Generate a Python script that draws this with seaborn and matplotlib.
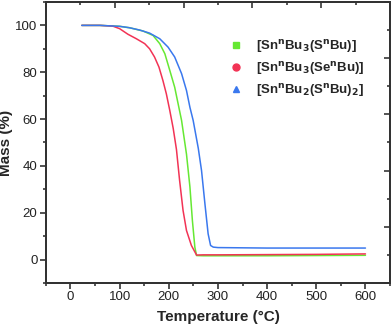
import matplotlib
matplotlib.use("Agg")
import matplotlib.pyplot as plt
import seaborn as sns
from matplotlib.lines import Line2D
from matplotlib.ticker import MultipleLocator, NullFormatter

# TGA data
temp_s = [23, 60, 100, 120, 147.6, 168, 181.6, 192, 202, 212, 219, 226, 236, 243, 248, 253, 256.5,
          270, 300, 400, 500, 600]
mass_s = [100, 100, 99.6, 99, 97.6, 95.7, 92.2, 87.9, 80.8, 73.6, 66.5, 59.4, 45, 31, 16.7, 5.3, 1.7,
          1.6, 1.6, 1.6, 1.7, 1.8]

temp_se = [23, 60, 86, 100, 117, 134, 151, 161, 171, 180, 188, 195, 202, 209, 215.6, 222, 229, 236,
           246, 256.5, 270, 300, 400, 500, 600]
mass_se = [100, 100, 99.7, 98.6, 96.2, 94.3, 92.2, 90, 86.5, 82.2, 76.5, 70.8, 63.7, 56, 47, 33.8, 21,
           12.4, 6, 1.9, 2, 2.0, 2.1, 2.2, 2.4]

temp_s2 = [23, 60, 100, 120, 141, 161, 181.6, 198.6, 212, 226, 236, 243, 249.6, 260, 266.6, 273.5, 280,
           285, 290.5, 300, 400, 500, 600]
mass_s2 = [100, 100, 99.6, 99, 98, 96.7, 94.3, 90.7, 86.5, 79.4, 72.2, 65, 59.4, 47.5, 38, 23.8, 11,
           6, 5.3, 5.1, 4.9, 4.9, 4.9]

labels = [r"[Sn$^n$Bu$_3$(S$^n$Bu)]",
          r"[Sn$^n$Bu$_3$(Se$^n$Bu)]",
          r"[Sn$^n$Bu$_2$(S$^n$Bu)$_2$]"]
colors = ["#66E833", "#F23355", "#3A78EE"]
markers = ["s", "o", "^"]

sns.set_style("ticks")
plt.rcParams["font.family"] = ["Liberation Sans", "DejaVu Sans"]
plt.rcParams["mathtext.default"] = "bf"

fig = plt.figure(figsize=(3.92, 3.29), dpi=100)
ax = fig.add_axes([0.117, 0.14, 0.878, 0.854])

for t, m, c in zip([temp_s, temp_se, temp_s2], [mass_s, mass_se, mass_s2], colors):
    sns.lineplot(x=t, y=m, color=c, linewidth=1.1, ax=ax)

ax.set_xlim(-50, 650)
ax.set_ylim(-10, 110)
ax.xaxis.set_major_locator(MultipleLocator(100))
ax.xaxis.set_minor_locator(MultipleLocator(50))
ax.yaxis.set_major_locator(MultipleLocator(20))
ax.yaxis.set_minor_locator(MultipleLocator(10))
ax.tick_params(which="major", direction="out", length=4, width=1.1, labelsize=9.5,
               pad=2, colors="#222222")
ax.tick_params(which="minor", direction="out", length=2.5, width=1.1)
ax.set_xlabel("Temperature (°C)", fontsize=11, fontweight="bold", labelpad=5)
ax.set_ylabel("Mass (%)", fontsize=11, fontweight="bold")
ax.yaxis.set_label_coords(-0.095, 0.5)
for sp in ax.spines.values():
    sp.set_linewidth(1.2)
    sp.set_color("#333333")

# mirrored ticks on top/right (inward, no labels)
top = ax.twiny()
top.set_xlim(0, 1)
top.xaxis.set_major_locator(MultipleLocator(0.2))
top.xaxis.set_minor_locator(MultipleLocator(0.1))
top.xaxis.set_major_formatter(NullFormatter())
top.tick_params(which="major", direction="in", length=4, width=1.1)
top.tick_params(which="minor", direction="in", length=2.5, width=1.1)
right = ax.twinx()
right.set_ylim(0, 1)
right.yaxis.set_major_locator(MultipleLocator(0.2))
right.yaxis.set_minor_locator(MultipleLocator(0.1))
right.yaxis.set_major_formatter(NullFormatter())
right.tick_params(which="major", direction="in", length=4, width=1.1)
right.tick_params(which="minor", direction="in", length=2.5, width=1.1)
for a in (top, right):
    for sp in a.spines.values():
        sp.set_linewidth(1.2)
        sp.set_color("#333333")

handles = [Line2D([], [], linestyle="none", marker=mk, color=c, markersize=5)
           for mk, c in zip(markers, colors)]
ax.legend(handles, labels, loc="upper left", bbox_to_anchor=(0.50, 0.915),
          frameon=False, prop={"weight": "bold", "size": 9.5},
          handlelength=1.0, handletextpad=1.0, labelspacing=0.38)

fig.savefig("out.png", dpi=100)
